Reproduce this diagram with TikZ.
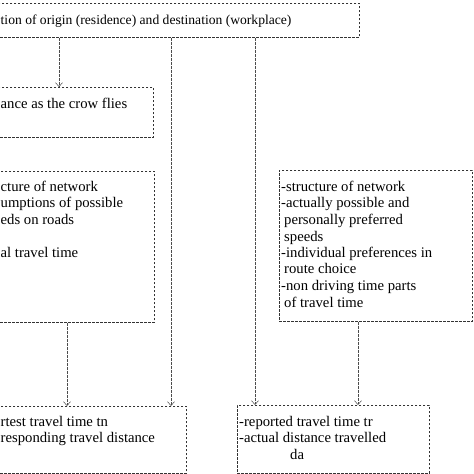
\documentclass[tikz,border=0pt]{standalone}
\usepackage{fontspec}
\setmainfont{Liberation Serif}
\usetikzlibrary{positioning,calc,arrows.meta}

\tikzset{
  box/.style={draw=black!80, dash pattern=on 2.6pt off 1.4pt, line width=0.7pt, inner sep=0pt, anchor=north west},
  conn/.style={draw=black!70, dash pattern=on 3pt off 1pt, line width=0.5pt, -{Straight Barb[length=4pt,width=7pt]}},
  txt/.style={anchor=base west, inner sep=0pt, font=\fontsize{14.7}{17}\selectfont}
}

\begin{document}
\begin{tikzpicture}[x=1pt,y=-1pt]

    \useasboundingbox (0,0) rectangle (474,474);
    \clip (0,0) rectangle (474,474);

    %boxes
    \node[box, minimum width=379pt, minimum height=34pt] (origin) at (-20,3) {};
    \node[box, minimum width=173pt, minimum height=50pt] (crow) at (-20,87) {};
    \node[box, minimum width=174pt, minimum height=151pt] (model) at (-20,171) {};
    \node[box, minimum width=193pt, minimum height=151pt] (survey) at (279,170) {};
    \node[box, minimum width=206pt, minimum height=67pt] (shortest) at (-20,406) {};
    \node[box, minimum width=192pt, minimum height=68pt] (reported) at (237,405) {};

    %texts
    \node[txt, font=\fontsize{13.6}{17}\selectfont] (torigin) at (0.5,24) {tion of origin (residence) and destination (workplace)};
    \node[txt] (tcrow) at (0.5,108) {ance as the crow flies};

    \foreach \y/\t [count=\i] in {191/cture of network, 207/umptions of possible,
                                  224/eds on roads, 257/al travel time}
        \node[txt] (tmodel\i) at (0.5,\y) {\t};

    \foreach \x/\y/\t [count=\i] in {281/191/-structure of network, 281/207/-actually possible and,
                                     284/224/personally preferred, 284/241/speeds,
                                     281/257/-individual preferences in, 284/273/route choice,
                                     281/290/-non driving time parts, 284/307/of travel time}
        \node[txt] (tsurvey\i) at (\x,\y) {\t};

    \node[txt] (tshort1) at (0.5,426) {rtest travel time tn};
    \node[txt] (tshort2) at (0.5,442) {responding travel distance};

    \node[txt] (trep1) at (239,426) {-reported travel time tr};
    \node[txt] (trep2) at (239,442) {-actual distance travelled};
    \node[txt] (trep3) at (290,459) {da};

    %arrows
    \coordinate (c1) at (59,0);
    \coordinate (c2) at (171,0);
    \coordinate (c3) at (255,0);
    \coordinate (c4) at (67,0);
    \coordinate (c5) at (358,0);

    \draw[conn] (origin.south -| c1) -- (crow.north -| c1);
    \draw[conn] (origin.south -| c2) -- (shortest.north -| c2);
    \draw[conn] (origin.south -| c3) -- (reported.north -| c3);
    \draw[conn] (model.south -| c4) -- (shortest.north -| c4);
    \draw[conn] (survey.south -| c5) -- (reported.north -| c5);

\end{tikzpicture}
\end{document}
